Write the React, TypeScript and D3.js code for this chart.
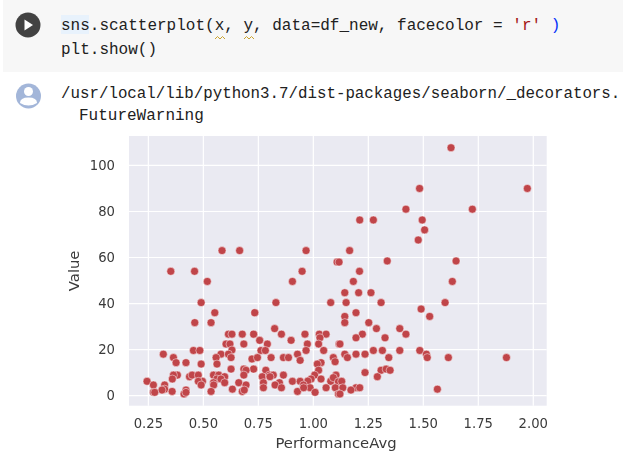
import React from 'react';
import * as d3 from 'd3';

const width = 623;
const height = 467;

// PerformanceAvg values (same order as valueData)
const performanceData = [
  0.352, 0.46, 0.585, 0.665, 0.967, 0.949, 1.108, 1.626, 1.483, 1.973, 1.421, 1.723, 1.211, 1.273, 1.495, 1.506,
  1.477, 1.165, 1.336, 1.649, 1.117, 1.21,
  0.518, 0.905, 0.49, 0.83, 1.079, 0.552, 0.734, 0.461, 0.535, 0.824, 0.855, 0.614, 0.63, 0.677, 0.729, 0.962,
  1.027, 1.058, 1.03, 0.899, 0.756, 0.603, 0.621, 0.684, 0.791, 0.973, 1.024, 1.117, 0.63, 0.762, 0.782, 0.455,
  0.484, 0.967, 1.047, 0.318, 0.58, 0.614, 0.928, 0.364, 0.558, 0.626, 0.721, 0.746, 0.808, 0.864, 0.887, 1.091,
  0.376, 0.421, 0.49, 0.562, 0.94, 1.035, 1.018, 1.099, 0.626, 0.684, 0.729, 0.694, 0.784, 1.024, 0.382, 0.364,
  0.437, 0.449, 0.477, 0.546, 0.57, 0.597, 0.684, 0.768, 0.8, 0.818, 0.864, 1.006, 1.103, 0.359, 0.561, 0.58,
  1.035, 0.803, 0.99, 0.975, 0.905, 0.94, 1.079, 0.244, 0.496, 0.477, 0.546, 0.597, 0.661, 0.773, 0.846, 0.955,
  0.273, 0.324, 0.49, 0.547, 0.694, 0.826, 1.091, 1.114, 0.632, 0.773, 0.855, 0.985, 1.058, 1.1, 0.324, 0.312,
  0.358, 0.421, 0.535, 0.677, 0.686, 0.928, 0.956, 0.273, 0.279, 0.412, 0.421, 1.008, 1.114,
  1.182, 1.632, 1.143, 1.206, 1.262, 1.149, 1.308, 1.599, 1.49, 1.529, 1.194, 1.143, 1.143, 1.252, 1.287, 1.393,
  1.421, 1.223, 1.326, 1.194, 1.121, 1.273, 1.314, 1.393, 1.484, 1.143, 1.194, 1.235, 1.514, 1.155, 1.343, 1.518,
  1.614, 1.878, 1.235, 1.308, 1.331, 1.349, 1.291, 1.129, 1.134, 1.194, 1.211, 1.171, 1.121, 1.564,
];

const valueData = [
  54, 54, 63, 63, 63, 54, 58, 107.7, 90, 90, 81, 81, 76.3, 76.3, 76.3, 72,
  67.6, 63, 58.5, 58.5, 58, 54,
  49.6, 49.6, 40.4, 40.4, 40.4, 36, 36, 31.7, 31.7, 29.1, 26.7, 26.7, 26.7, 26.7, 26.7, 26.7,
  26.7, 26.7, 25.1, 24, 24, 22.4, 22.4, 22.4, 22.4, 22.4, 22.4, 22.4, 19.8, 19.6, 19.6, 19.6,
  19.6, 19.6, 19.6, 18, 18, 18, 18, 16.5, 16.5, 16.5, 15.9, 16.5, 16.5, 16.5, 16.5, 16.5,
  14.3, 14.3, 13.7, 13.7, 15.3, 14.3, 13.7, 14.7, 11.5, 11.5, 11.5, 11, 11, 11, 8.9, 8.9,
  8.2, 8.9, 8.9, 8.9, 8.9, 8.2, 8.9, 8.2, 8.9, 8.9, 8.9, 8.9, 8.9, 7.2, 7.2, 7.2,
  7.2, 8.2, 7.2, 6.3, 6.2, 6.2, 6.2, 6.2, 6.2, 6.2, 5.6, 5.6, 5.6, 5.6, 5.6, 4.6,
  4.6, 4.6, 4.6, 4.6, 4.6, 4.6, 7.8, 6, 2.8, 3.4, 3.4, 3.4, 3.4, 3.4, 2.8, 2.4,
  1.8, 2.4, 1.8, 1.8, 2.4, 1.8, 3.4, 1.4, 1.4, 0.7, 1.4, 1.4, 0.7,
  49.6, 49.6, 44.7, 44.7, 44.7, 40.4, 40.4, 40.4, 37.6, 34.4, 36, 34.4, 31.7, 31.7, 29.1, 29.1,
  26.7, 26.7, 25.1, 25.1, 22.4, 19.6, 19.6, 19.6, 19.6, 18, 18, 18, 18, 16.5, 16.5, 16.5,
  16.5, 16.5, 10, 11, 11.5, 11, 8.2, 6.2, 3.4, 3.4, 3.4, 2.4, 0.7, 2.8,
];

const xTicks = [0.25, 0.5, 0.75, 1, 1.25, 1.5, 1.75, 2];
const yTicks = [0, 20, 40, 60, 80, 100];

const x = d3.scaleLinear().domain([0.162, 2.061]).range([129, 546.7]);
const y = d3.scaleLinear().domain([-4.4, 112.8]).range([405.7, 136]);

const mono = '"Liberation Mono", monospace';
const sans = '"DejaVu Sans", sans-serif';
const codeColor = '#212121';

export default function App() {
  const points = d3.zip(performanceData, valueData);
  return (
    <svg width={width} height={height} style={{ position: 'absolute', left: 0, top: 0, background: '#fff' }}>
      <defs>
        <filter id="soft" x="-5%" y="-5%" width="110%" height="110%">
          <feGaussianBlur stdDeviation="0.35" />
        </filter>
      </defs>

      {/* notebook cell */}
      <rect x={3} y={0} width={620} height={72} fill="#f7f7f7" />
      <rect x={61} y={15} width={28} height={19} fill="#e8f2fc" />
      <circle cx={28} cy={25} r={12.5} fill="#424242" />
      <path d="M24.5,19.5 L33,25 L24.5,30.5 Z" fill="#fff" />
      <text x={61} y={30} fontFamily={mono} fontSize={16} fill={codeColor} xmlSpace="preserve">
        sns.scatterplot(x, y, data=df_new, facecolor = <tspan fill="#a31515">'r'</tspan> <tspan fill="#0431fa">)</tspan>
      </text>
      <text x={61} y={54} fontFamily={mono} fontSize={16} fill={codeColor}>plt.show()</text>
      <path d="M215,39 l2.5,-2.5 l2.5,2.5 l2.5,-2.5 l2.5,2.5" fill="none" stroke="#c9a22e" strokeWidth={1} />
      <path d="M244,39 l2.5,-2.5 l2.5,2.5 l2.5,-2.5 l2.5,2.5" fill="none" stroke="#c9a22e" strokeWidth={1} />

      {/* output */}
      <circle cx={28.5} cy={96} r={12.5} fill="#a3b6d9" />
      <circle cx={28.5} cy={91.5} r={4.5} fill="#fff" />
      <path d="M20,103 Q20,97.5 28.5,97.5 Q37,97.5 37,103 Q28.5,108 20,103 Z" fill="#fff" />
      <text x={61} y={98} fontFamily={mono} fontSize={15.8} fill={codeColor}>
        /usr/local/lib/python3.7/dist-packages/seaborn/_decorators.
      </text>
      <text x={79} y={120} fontFamily={mono} fontSize={16} fill={codeColor}>FutureWarning</text>

      {/* chart */}
      <g filter="url(#soft)">
        <rect x={x.range()[0]} y={y.range()[1]} width={x.range()[1] - x.range()[0]} height={y.range()[0] - y.range()[1]} fill="#eaeaf2" />
        {xTicks.map(t => (
          <line key={t} x1={x(t)} x2={x(t)} y1={y.range()[0]} y2={y.range()[1]} stroke="#fff" strokeWidth={1.2} />
        ))}
        {yTicks.map(t => (
          <line key={t} x1={x.range()[0]} x2={x.range()[1]} y1={y(t)} y2={y(t)} stroke="#fff" strokeWidth={1.2} />
        ))}
        {points.map(([px, py], i) => (
          <circle key={i} cx={x(px)} cy={y(py)} r={4} fill="#c0444a" stroke="#fff" strokeOpacity={0.6} strokeWidth={0.8} />
        ))}
        {xTicks.map(t => (
          <text key={t} x={x(t)} y={428} textAnchor="middle" fontFamily={sans} fontSize={13.2} fill="#3a3a3a">
            {d3.format('.2f')(t)}
          </text>
        ))}
        {yTicks.map(t => (
          <text key={t} x={115} y={y(t) + 4.8} textAnchor="end" fontFamily={sans} fontSize={13.2} fill="#3a3a3a">
            {t}
          </text>
        ))}
        <text x={336} y={448} textAnchor="middle" fontFamily={sans} fontSize={14.8} fill="#3a3a3a">PerformanceAvg</text>
        <text transform={`translate(79,${(y.range()[0] + y.range()[1]) / 2}) rotate(-90)`} textAnchor="middle" fontFamily={sans} fontSize={14.8} fill="#3a3a3a">
          Value
        </text>
      </g>
    </svg>
  );
}
